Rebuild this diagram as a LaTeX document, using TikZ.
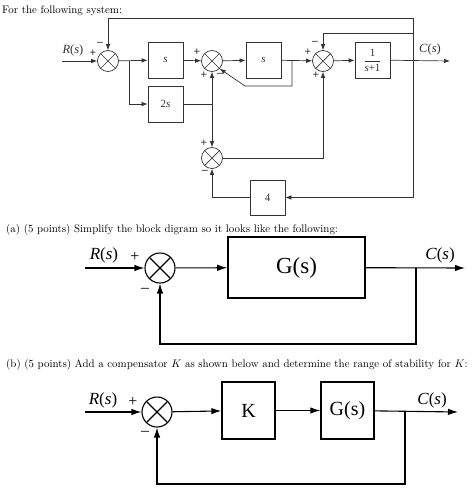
\documentclass[tikz,border=0pt]{standalone}
\usepackage{amsmath}
\usepackage{fontspec}
\usetikzlibrary{arrows.meta, positioning, calc}
\newfontfamily\labfont{Liberation Serif}
\newcommand{\sig}[1]{\textit{#1}(\textit{s})}
\tikzset{
  sumj/.style={draw, circle, inner sep=0pt, minimum size=#1,
    path picture={\draw (path picture bounding box.north west)--(path picture bounding box.south east)
      (path picture bounding box.north east)--(path picture bounding box.south west);}},
  blk/.style={draw, inner sep=0pt, minimum width=35pt, minimum height=36pt},
  arr/.style={-{Latex[length=6pt,width=4.5pt]}},
  bigarr/.style={-{Latex[length=10pt,width=6.5pt]}},
  sgn/.style={inner sep=0pt, font=\labfont\fontsize{11.5}{11}\selectfont\bfseries},
  bigsgn/.style={inner sep=0pt, font=\labfont\fontsize{16}{16}\selectfont}
}

\begin{document}
\begin{tikzpicture}[x=1pt,y=-1pt]
  \useasboundingbox (0,0) rectangle (474,493);
  \fill[white] (0,0) rectangle (474,493);

  % original system
  \node[anchor=west, inner sep=0pt, font=\fontsize{10.9}{12}\selectfont] (title) at (2,11) {For the following system:};
  \begin{scope}[line width=0.7pt, color=black!80, font=\labfont\fontsize{11}{12}\selectfont]
    \node[sumj=21pt] (s1) at (108,61) {};
    \node[blk] (bs1) at (165.5,60) {\textit{s}};
    \node[blk] (b2s) at (165.5,104) {2\textit{s}};
    \node[sumj=21pt] (s2) at (212,61) {};
    \node[blk] (bs2) at (263.5,60) {\textit{s}};
    \node[sumj=21pt] (s3) at (323,61) {};
    \node[blk, font=\labfont\fontsize{11}{11}\selectfont] (btf) at (372.5,60) {$\dfrac{\text{1}}{\textit{s}\text{+1}}$};
    \node[sumj=21pt] (s4) at (212,158) {};
    \node[blk, minimum height=35pt] (b4) at (267.5,197.5) {4};
    \coordinate (rin) at (62,61);
    \coordinate (cout) at (450,61);
    \coordinate (p1) at (129,61);
    \coordinate (p2) at (292,61);
    \coordinate (p3) at (413,61);
    \coordinate (t1) at (413,18);
    \coordinate (t2) at (413,33);
    \coordinate (q1) at (292,86);
    \coordinate (q2) at (245,86);
    \coordinate (j1) at (212,104);
    \draw[arr] (rin) -- (s1);
    \draw[arr] (s1) -- (bs1);
    \draw[arr] (p1) |- (b2s);
    \draw[arr] (bs1) -- (s2);
    \draw[arr] (s2) -- (bs2);
    \draw[arr] (bs2) -- (s3);
    \draw[arr] (s3) -- (btf);
    \draw[arr] (btf) -- (cout);
    \draw[arr] (p2) -- (q1) -- (q2) -- (s2.south east);
    \draw (b2s) -- (j1);
    \draw[arr] (j1) -- (s2);
    \draw[arr] (j1) -- (s4);
    \draw[arr] (s4) -| (s3);
    \draw (t1) -- (t2);
    \draw[arr] (t1) -| (s1);
    \draw[arr] (t2) -| (s3);
    \draw[arr] (t2) |- (b4);
    \draw[arr] (b4) -| (s4);
    \node[font=\labfont\fontsize{12.5}{12}\selectfont] (lr) at (73,50) {\sig{R}};
    \node[font=\labfont\fontsize{12.5}{12}\selectfont] (lc) at (430,49) {\sig{C}};
    \node[sgn] at (93,53) {+};
    \node[sgn] at (100,44) {\textendash};
    \node[sgn] at (197,52) {+};
    \node[sgn] at (204,75) {+};
    \node[sgn] at (220,75) {\textendash};
    \node[sgn] at (308,52) {+};
    \node[sgn] at (315,43) {\textendash};
    \node[sgn] at (316,75) {+};
    \node[sgn] at (204,143) {+};
    \node[sgn] at (205,172) {\textendash};
  \end{scope}

  % part (a)
  \node[anchor=west, inner sep=0pt, font=\fontsize{10.9}{12}\selectfont] (qa) at (6,230) {(a) (5 points) Simplify the block digram so it looks like the following:};
  \begin{scope}[line width=1.1pt]
    \node[sumj=30pt] (sa) at (160,268) {};
    \node[draw, line width=1.6pt, minimum width=137pt, minimum height=61pt, inner sep=0pt,
      font=\labfont\fontsize{23}{23}\selectfont] (ga) at (296.5,267.5) {G(s)};
    \coordinate (ain) at (85,268);
    \coordinate (aout) at (465,268);
    \coordinate (ab) at (416,268);
    \coordinate (af) at (416,344);
    \draw[bigarr] (ain) -- (sa);
    \draw[bigarr] (sa) -- (ga);
    \draw[bigarr] (ga) -- (aout);
    \draw[bigarr] (ab) -- (af) -| (sa);
    \node[font=\labfont\fontsize{17}{17}\selectfont] (alr) at (104,255) {\sig{R}};
    \node[font=\labfont\fontsize{17}{17}\selectfont] (alc) at (440,255) {\sig{C}};
    \node[bigsgn] at (135,257) {+};
    \node[bigsgn] at (145,290) {\textendash};
  \end{scope}

  % part (b)
  \node[anchor=west, inner sep=0pt, font=\fontsize{10.9}{12}\selectfont] (qb) at (6,365) {(b) (5 points) Add a compensator $K$ as shown below and determine the range of stability for $K$:};
  \begin{scope}[line width=1.1pt]
    \node[sumj=30pt] (sb) at (157,412) {};
    \node[draw, line width=1.4pt, minimum width=53pt, minimum height=57pt, inner sep=0pt,
      font=\labfont\fontsize{20}{20}\selectfont] (kb) at (248.5,410.5) {K};
    \node[draw, line width=1.4pt, minimum width=53pt, minimum height=57pt, inner sep=0pt,
      font=\labfont\fontsize{20}{20}\selectfont] (gb) at (347.5,410.5) {G(s)};
    \coordinate (bin) at (85,412);
    \coordinate (bout) at (458,412);
    \coordinate (bb) at (405,412);
    \coordinate (bf) at (405,484);
    \draw[bigarr] (bin) -- (sb);
    \draw[bigarr] (sb) -- (kb);
    \draw[bigarr] (kb) -- (gb);
    \draw[bigarr] (gb) -- (bout);
    \draw[bigarr] (bb) -- (bf) -| (sb);
    \node[font=\labfont\fontsize{17}{17}\selectfont] (blr) at (103,400) {\sig{R}};
    \node[font=\labfont\fontsize{17}{17}\selectfont] (blc) at (432,400) {\sig{C}};
    \node[bigsgn] at (133,402) {+};
    \node[bigsgn] at (145,433) {\textendash};
  \end{scope}
\end{tikzpicture}
\end{document}
